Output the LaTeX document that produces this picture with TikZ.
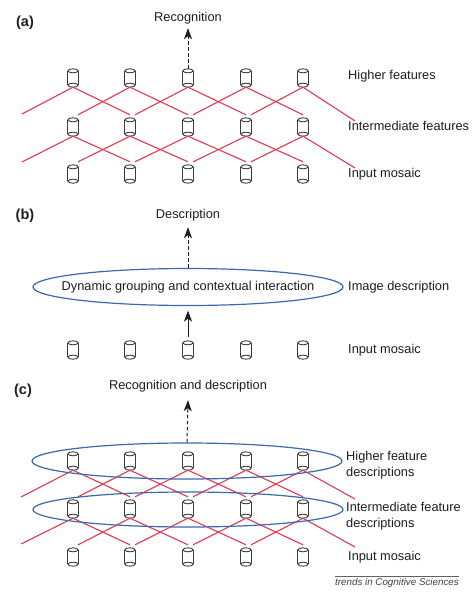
\documentclass[tikz,border=0pt]{standalone}
\usepackage{fontspec}
\setmainfont{Liberation Sans}
\usetikzlibrary{arrows.meta,shapes.geometric,calc}
\definecolor{netred}{RGB}{224,58,82}
\definecolor{ellblue}{RGB}{58,105,172}
\definecolor{cylgray}{RGB}{60,60,60}
\definecolor{txt}{RGB}{30,30,30}
\newcommand\cyl[2]{%
  \node[cylnode] (#1) at (#2) {};
  \path[fill=white] ([yshift=-2pt]#1.north west) rectangle ([yshift=2pt]#1.south east);
  \draw[cylline] ([yshift=-2pt]#1.north west) -- ([yshift=2pt]#1.south west)
                 ([yshift=-2pt]#1.north east) -- ([yshift=2pt]#1.south east);
  \draw[cylline] ([yshift=-2pt]#1.north) ellipse [x radius=5pt,y radius=2pt];
  \draw[cylline] ([yshift=2pt]#1.south) ellipse [x radius=5pt,y radius=2pt];
}
\newcommand\cylrow[2]{%
  \foreach \i/\xx in {1/73,2/130,3/188,4/246,5/303}{\cyl{#1\i}{\xx,#2}}%
}
\newcommand\netlayer[4]{%
  \foreach \i in {1,...,5}{%
    \pgfmathtruncatemacro\nx{\i+1}\pgfmathtruncatemacro\px{\i-1}%
    \ifnum\i<5 \draw[netline] (#1\i.south) -- ([yshift=3pt]#2\nx.north);\fi
    \ifnum\i>1 \draw[netline] (#1\i.south) -- ([xshift=5pt,yshift=3pt]#2\px.north);\fi
  }
  \draw[netline] (#1\detokenize{}1.south) -- (#3);
  \draw[netline] (#1\detokenize{}5.south) -- (#4);
}
\begin{document}
\begin{tikzpicture}[x=1pt,y=-1pt,
  cylnode/.style={rectangle,minimum width=10pt,minimum height=18pt,inner sep=0pt},
  cylline/.style={draw=cylgray,line width=0.9pt},
  netline/.style={draw=netred,line width=1.1pt},
  lbl/.style={anchor=west,inner sep=0pt,text=txt,align=left,font=\fontsize{12.8}{16}\selectfont},
  ctext/.style={inner sep=0pt,text=txt,font=\fontsize{12.8}{16}\selectfont},
  panel/.style={inner sep=0pt,text=txt,font=\fontsize{14.5}{17}\selectfont\bfseries},
  dasharr/.style={draw=txt,line width=1pt,dash pattern=on 3.5pt off 2.5pt,-{Stealth[length=11pt,width=8pt,inset=3pt]}},
  solarr/.style={draw=txt,line width=1pt,-{Stealth[length=11pt,width=8pt,inset=3pt]}},
  ellnode/.style={ellipse,draw=ellblue,line width=1.2pt,inner sep=0pt,minimum width=310pt},
  foot/.style={inner sep=0pt,text=txt!85,font=\fontsize{9.8}{12}\selectfont\itshape}]
\useasboundingbox[fill=white] (0,0) rectangle (474,594);

% ---------- panel (a)
\node[panel] (pa) at (25,23) {(a)};
\node[ctext] (rec) at (188,18) {Recognition};
\cylrow{aH}{78}
\cylrow{aI}{127}
\cylrow{aM}{174}
\coordinate (aL1) at (22,114);
\coordinate (aR1) at (355,121);
\coordinate (aL2) at (22,162);
\coordinate (aR2) at (355,168);
\netlayer{aH}{aI}{aL1}{aR1}
\netlayer{aI}{aM}{aL2}{aR2}
\draw[dasharr] (aH3.north) -- ([yshift=-4pt]rec.south);
\node[lbl] (laH) at (348,76) {Higher features};
\node[lbl] (laI) at (348,126) {Intermediate features};
\node[lbl] (laM) at (348,174) {Input mosaic};

% ---------- panel (b)
\node[panel] (pb) at (25,216) {(b)};
\node[ctext] (desc) at (188,215) {Description};
\node[ellnode,minimum height=37pt] (grp) at (188,287) {};
\node[ctext] (grpt) at (grp.center) {Dynamic grouping and contextual interaction};
\cylrow{bM}{350}
\draw[dasharr] (grp.north) -- ([yshift=-6pt]desc.south);
\draw[solarr] ([yshift=4pt]bM3.north) -- ([yshift=-4.5pt]grp.south);
\node[lbl] (lbD) at (348,287) {Image description};
\node[lbl] (lbM) at (348,350) {Input mosaic};

% ---------- panel (c)
\node[panel] (pc) at (23,391) {(c)};
\node[ctext] (recd) at (188,386) {Recognition and description};
\cylrow{cH}{461}
\cylrow{cI}{509}
\cylrow{cM}{557}
\coordinate (cL1) at (21,497);
\coordinate (cR1) at (355,499);
\coordinate (cL2) at (21,544);
\coordinate (cR2) at (355,547);
\netlayer{cH}{cI}{cL1}{cR1}
\netlayer{cI}{cM}{cL2}{cR2}
\node[ellnode,minimum height=36pt] (e1) at (187,461) {};
\node[ellnode,minimum height=35pt] (e2) at (188,509.5) {};
\draw[dasharr] (e1.north) -- ([yshift=-8pt]recd.south);
\node[lbl] (lcH) at (346,465) {Higher feature\\descriptions};
\node[lbl] (lcI) at (346,516.5) {Intermediate feature\\descriptions};
\node[lbl] (lcM) at (348,557) {Input mosaic};

% ---------- footer
\node[foot] (src) at (397,583) {trends in Cognitive Sciences};
\draw[draw=txt!70,line width=0.6pt] ([yshift=1.5pt]src.north west) -- ([yshift=1.5pt]src.north east);
\end{tikzpicture}
\end{document}
